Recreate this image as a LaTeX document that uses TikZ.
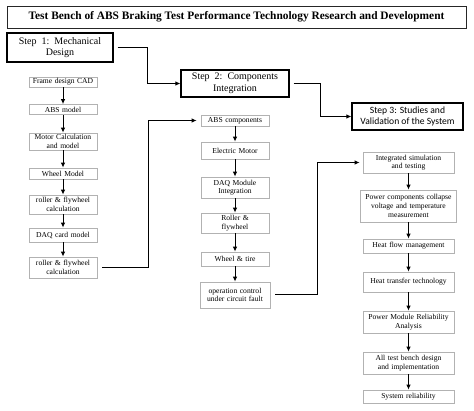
\documentclass[tikz,border=0pt]{standalone}
\usepackage{fontspec}
\setmainfont{Liberation Serif}
\newfontfamily\calfont{Carlito}
\usetikzlibrary{arrows.meta}
\begin{document}
\begin{tikzpicture}[x=1pt,y=-1pt,
  box/.style={draw=gray!60, line width=0.7pt, fill=white, align=center, inner sep=1pt,
    font=\fontsize{7.6}{8.6}\selectfont},
  lbox/.style={box, minimum width=68pt, text width=66pt},
  mbox/.style={box, minimum width=68pt, text width=66pt},
  rbox/.style={box, minimum width=91pt, text width=89pt},
  stepbox/.style={draw=black, line width=1.1pt, align=center, inner sep=1pt,
    font=\fontsize{10}{11.5}\selectfont},
  conn/.style={line width=1pt, -{Latex[length=5pt,width=4.5pt]}},
  vconn/.style={line width=1pt, -{Latex[length=5pt,width=4.5pt]}}
]
\useasboundingbox (0,0) rectangle (474,411);

% title
\node[draw=black!85, line width=0.9pt, minimum width=459pt, minimum height=22pt,
  font=\bfseries\fontsize{11.4}{12}\selectfont] (T) at (236.5,17)
  {Test Bench of ABS Braking Test Performance Technology Research and Development};

% steps
\node[stepbox, minimum width=106pt, minimum height=29pt] (S1) at (60,47.5)
  {Step\ \ 1:\ \ Mechanical\\Design};
\node[stepbox, minimum width=108pt, minimum height=27pt] (S2) at (235,83.5)
  {Step\ \ 2:\ \ Components\\Integration};
\node[stepbox, minimum width=111pt, minimum height=27pt, font=\calfont\fontsize{9.6}{11.5}\selectfont] (S3) at (407.5,116.5)
  {Step 3: Studies and\\Validation of the System};

% left column
\node[lbox, minimum height=10pt] (L1) at (63,82) {Frame design CAD};
\node[lbox, minimum height=10pt] (L2) at (63,109.5) {ABS model};
\node[lbox, minimum height=17pt] (L3) at (63,141.5) {Motor Calculation\\and model};
\node[lbox, minimum height=11pt] (L4) at (63,173.5) {Wheel Model};
\node[lbox, minimum height=19pt] (L5) at (63,204.5) {roller \& flywheel\\calculation};
\node[lbox, minimum height=14pt] (L6) at (63,235) {DAQ card model};
\node[lbox, minimum height=21pt] (L7) at (63,267.5) {roller \& flywheel\\calculation};

% middle column
\node[mbox, minimum height=11pt] (M1) at (235,120.5) {ABS components};
\node[mbox, minimum height=17pt] (M2) at (235,150.5) {Electric Motor};
\node[mbox, minimum height=21pt] (M3) at (235,187.5) {DAQ Module\\Integration};
\node[mbox, minimum height=20pt] (M4) at (235,223) {Roller \&\\flywheel};
\node[mbox, minimum height=14pt] (M5) at (235,259) {Wheel \& tire};
\node[box, minimum width=70pt, text width=68pt, minimum height=26pt] (M6) at (235,295) {operation control\\under circuit fault};

% right column
\node[rbox, minimum height=21pt] (R1) at (408.5,162.5) {Integrated simulation\\and testing};
\node[box, minimum width=95pt, text width=94pt, minimum height=32pt] (R2) at (408.5,206) {Power components collapse\\voltage and temperature\\measurement};
\node[rbox, minimum height=14pt] (R3) at (408.5,246) {Heat flow management};
\node[rbox, minimum height=20pt] (R4) at (408.5,282) {Heat transfer technology};
\node[rbox, minimum height=22pt] (R5) at (408.5,322) {Power Module Reliability\\Analysis};
\node[rbox, minimum height=22pt] (R6) at (408.5,363) {All test bench design\\and implementation};
\node[rbox, minimum height=13pt] (R7) at (408.5,396.5) {System reliability};

% step connectors
\draw[conn] ([xshift=4pt]S1.east) -- ++(30,0) |- (S2.west);
\draw[conn] ([xshift=4pt]S2.east) -- ++(27,0) |- (S3.west);

% column connectors
\draw[conn] ([xshift=5pt]L7.east) -- ++(46,0) |- ([xshift=-4pt]M1.west);
\draw[conn] ([xshift=5pt]M6.east) -- ++(42,0) |- ([xshift=-3pt]R1.west);

% vertical arrows
\foreach \a/\b in {L1/L2,L2/L3,L3/L4,L4/L5,L5/L6,L6/L7,
                   M1/M2,M2/M3,M3/M4,M4/M5,M5/M6,
                   R1/R2,R2/R3,R3/R4,R4/R5,R5/R6,R6/R7}
  \draw[vconn] (\a.south) -- (\b.north);
\end{tikzpicture}
\end{document}
